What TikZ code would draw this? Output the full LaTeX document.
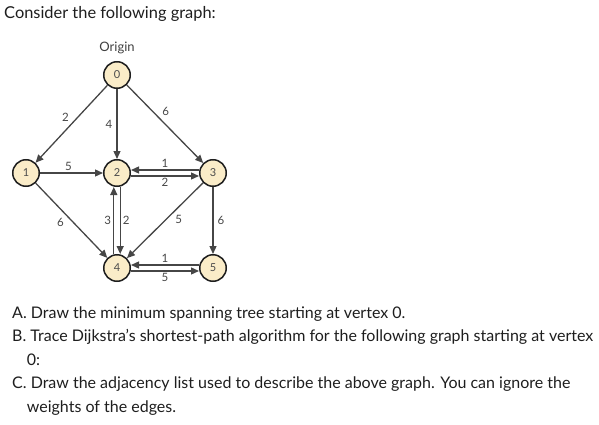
\documentclass[tikz,border=0pt]{standalone}
\usepackage{fontspec}
\setmainfont{Lato}
\usetikzlibrary{arrows.meta}
\definecolor{vfill}{RGB}{250,236,200}
\definecolor{edgegray}{RGB}{70,70,70}
\definecolor{txt}{RGB}{30,30,30}

\begin{document}
\begin{tikzpicture}[x=1pt, y=-1pt,
    vertex/.style={draw=txt, line width=1.5pt, circle, fill=vfill, minimum size=26.5pt, inner sep=0pt, font=\fontsize{11}{13}\selectfont, text=txt!80},
    edge/.style={draw=edgegray, line width=1.3pt, -{Triangle[length=8pt, width=7pt]}},
    wt/.style={font=\fontsize{11.5}{13}\selectfont, text=edgegray, inner sep=2pt},
    line/.style={anchor=base west, inner sep=0pt, font=\fontsize{16}{19}\selectfont, text=txt}]
    \useasboundingbox (0,0) rectangle (599,425);

    % question text
    \node[line, font=\fontsize{16.4}{19}\selectfont] (title) at (4,18.5) {Consider the following graph:};
    \node[line] (qa) at (12,318.3) {A. Draw the minimum spanning tree starting at vertex 0.};
    \node[line] (qb) at (12,341.8) {B. Trace Dijkstra’s shortest-path algorithm for the following graph starting at vertex};
    \node[line] (qb2) at (26.7,365.3) {0:};
    \node[line] (qc) at (12,388.8) {C. Draw the adjacency list used to describe the above graph. You can ignore the};
    \node[line] (qc2) at (26.7,412.5) {weights of the edges.};

    % vertices
    \node[vertex] (v0) at (117,75) {0};
    \node[vertex] (v1) at (26,173) {1};
    \node[vertex] (v2) at (117,173) {2};
    \node[vertex] (v3) at (213,173) {3};
    \node[vertex] (v4) at (117,268) {4};
    \node[vertex] (v5) at (213,268) {5};
    \node[font=\fontsize{13}{15}\selectfont, text=txt!85] (origin) at (117,48) {Origin};

    % edges
    \draw[edge] (v0) -- node[wt, pos=.5, above left] {2} (v1);
    \draw[edge] (v0) -- node[wt, pos=.5, left=2pt] {4} (v2);
    \draw[edge] (v0) -- node[wt, pos=.43, above right] {6} (v3);
    \draw[edge] (v1) -- node[wt, pos=.45, above] {5} (v2);
    \draw[edge] ([yshift=3pt]v3.west) -- node[wt, above] {1} ([yshift=3pt]v2.east);
    \draw[edge] ([yshift=-3pt]v2.east) -- node[wt, below] {2} ([yshift=-3pt]v3.west);
    \draw[edge] (v1) -- node[wt, pos=.43, below left] {6} (v4);
    \draw[edge] ([xshift=-3.2pt]v4.north) -- node[wt, left] {3} ([xshift=-3.2pt]v2.south);
    \draw[edge] ([xshift=3.2pt]v2.south) -- node[wt, right] {2} ([xshift=3.2pt]v4.north);
    \draw[edge] (v3) -- node[wt, pos=.4, below right] {5} (v4);
    \draw[edge] (v3) -- node[wt, right=2pt] {6} (v5);
    \draw[edge] ([yshift=3pt]v5.west) -- node[wt, above] {1} ([yshift=3pt]v4.east);
    \draw[edge] ([yshift=-3pt]v4.east) -- node[wt, below] {5} ([yshift=-3pt]v5.west);
\end{tikzpicture}
\end{document}
